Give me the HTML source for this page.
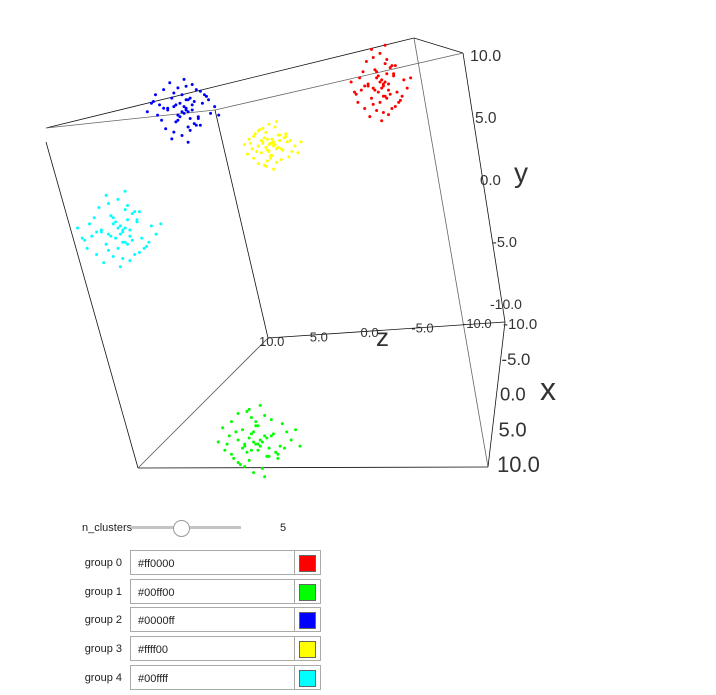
<!DOCTYPE html>
<html><head><meta charset="utf-8"><style>
body{margin:0;background:#fff;font-family:"Liberation Sans",sans-serif;}
#wrap{position:relative;width:716px;height:695px;overflow:hidden;}
.row{position:absolute;left:0;height:25px;}
.lbl{position:absolute;width:122px;text-align:right;font-size:11px;color:#222;top:7px;}
.inp{position:absolute;left:130px;top:0;width:165px;height:25px;box-sizing:border-box;border:1px solid #aaa;font-size:11px;padding:7px 0 0 7px;color:#222;}
.sw{position:absolute;left:294px;top:0;width:27px;height:25px;box-sizing:border-box;border:1px solid #aaa;}
.sw div{position:absolute;left:4px;top:4px;width:15px;height:15px;border:1px solid #666;}
</style></head><body>
<div id="wrap">
<svg id="plot" width="716" height="500" style="position:absolute;left:0;top:0">
<g id="box" stroke="#111" stroke-width="0.8" fill="none">
<polyline points="46,128 414,38 463,53" />
<polyline points="46,128 215,110 463,53" stroke="#666"/>
<line x1="46" y1="142" x2="138" y2="468"/>
<line x1="138" y1="468" x2="488" y2="467"/>
<line x1="215" y1="110" x2="268" y2="338"/>
<line x1="268" y1="338" x2="138" y2="468" stroke="#555"/>
<line x1="268" y1="338" x2="505" y2="322"/>
<line x1="414" y1="38" x2="488" y2="467" stroke="#666"/>
<polyline points="463,53 505,322 488,467"/>
</g>
<g id="ticks" fill="#333" font-family="Liberation Sans, sans-serif"></g>
<g id="pts"></g>
</svg>
<div>
<div style="position:absolute;left:82px;top:522px;font-size:11px;color:#222">n_clusters</div>
<div style="position:absolute;left:131px;top:526px;width:110px;height:3px;background:#c4c4c4"></div>
<div style="position:absolute;left:173px;top:520px;width:15px;height:15px;border-radius:50%;border:1px solid #999;background:#fff"></div>
<div style="position:absolute;left:280px;top:522px;font-size:11px;color:#222">5</div>
</div>
<div id="rows"></div>
</div>
<script>
const clusterNames=["group 0","group 1","group 2","group 3","group 4"];
const clusterColors=["#ff0000","#00ff00","#0000ff","#ffff00","#00ffff"];
const centerX=[380,258,182,272,118];
const centerY=[84,440,110,146,230];
const spreadX=[20,26,24,18,28];
const spreadY=[24,24,20,16,24];
const flipX=[1,-1,1,-1,1];
const flipY=[1,1,-1,-1,1];
const offX=[0.1,-0.5,0.8,-0.9,0.3,0.6,-0.2,-1.2,1.1,0.4,-0.7,0.2,-0.3,1.4,-1.5,0.9,0.0,-0.6,0.7,-1.0,0.5,1.2,-0.4,0.3,-0.8,1.6,-1.3,0.1,0.6,-0.1,1.0,-0.9,0.4,-0.4,0.8,-1.7,0.2,1.3,-0.5,0.0,0.9,-1.1,0.5,-0.2,1.8,-0.7,0.3,-1.4,0.7,0.2,0.1,-0.3,0.2,0.4,-0.1,0.0,0.3,-0.2,0.5,-0.4];
const offY=[0.2,0.7,-0.4,0.1,-1.0,0.5,1.3,-0.3,0.9,-1.2,0.0,0.6,-0.7,-0.2,0.4,1.1,-1.5,1.6,-0.9,-0.6,0.3,0.8,1.0,-0.1,-1.1,0.2,0.9,1.8,-0.8,-0.4,0.4,1.2,0.7,-1.3,-0.5,-0.1,1.4,0.6,-1.7,0.9,-0.9,0.3,1.5,-0.6,-0.3,0.1,-1.9,0.5,1.2,0.0,-0.2,0.3,0.1,-0.5,0.4,-0.1,0.6,-0.3,0.0,0.2];
const yTicks=["10.0","5.0","0.0","-5.0","-10.0"];
const zTicks=["10.0","5.0","0.0","-5.0","-10.0"];
const xTicks=["-10.0","-5.0","0.0","5.0","10.0"];
const NS="http://www.w3.org/2000/svg";
const tg=document.getElementById('ticks');
function txt(x,y,s,size,name){const t=document.createElementNS(NS,'text');t.setAttribute('x',x);t.setAttribute('y',y);t.setAttribute('font-size',size);t.textContent=s;


tg.appendChild(t);}
yTicks.forEach((s,i)=>{const f=i/(yTicks.length-1);txt(470+f*20+(i==3?7:0),61+f*248,s,16-f*2,'y-tick-label');});
txt(514,182,'y',28,'y-axis-title');
zTicks.forEach((s,i)=>{const f=i/(zTicks.length-1);txt(259+f*203,346-f*18,s,13,'z-tick-label');});
txt(376,346,'z',26,'z-axis-title');
xTicks.forEach((s,i)=>{const f=i/(xTicks.length-1);txt(503-f*6,329+f*143,s,15+f*7,'x-tick-label');});
txt(540,400,'x',32,'x-axis-title');
const pg=document.getElementById('pts');
clusterColors.forEach((c,k)=>{
 const g=document.createElementNS(NS,'g');
 
 
 for(let i=0;i<offX.length;i++){
  const a=(k%2?offY[i]:offX[i])*flipX[k],b=(k%2?offX[i]:offY[i])*flipY[k];
  const e=document.createElementNS(NS,'circle');
  e.setAttribute('cx',centerX[k]+a*spreadX[k]*0.85);
  e.setAttribute('cy',centerY[k]+b*spreadY[k]*0.85);
  e.setAttribute('r',1.5);e.setAttribute('fill',c);
  
  
  g.appendChild(e);
 }
 pg.appendChild(g);
});
const rows=document.getElementById('rows');
clusterNames.forEach((n,i)=>{
 const r=document.createElement('div');r.className='row';r.style.top=(550+i*28.7)+'px';
 
 
 r.innerHTML='<div class="lbl">'+n+'</div><div class="inp">'+clusterColors[i]+'</div><div class="sw"><div style="background:'+clusterColors[i]+'"></div></div>';
 const inp=r.querySelector('.inp');
 
 
 const sw=r.querySelector('.sw');
 
 
 const lb=r.querySelector('.lbl');
 
 
 rows.appendChild(r);
});
</script>
</body></html>
